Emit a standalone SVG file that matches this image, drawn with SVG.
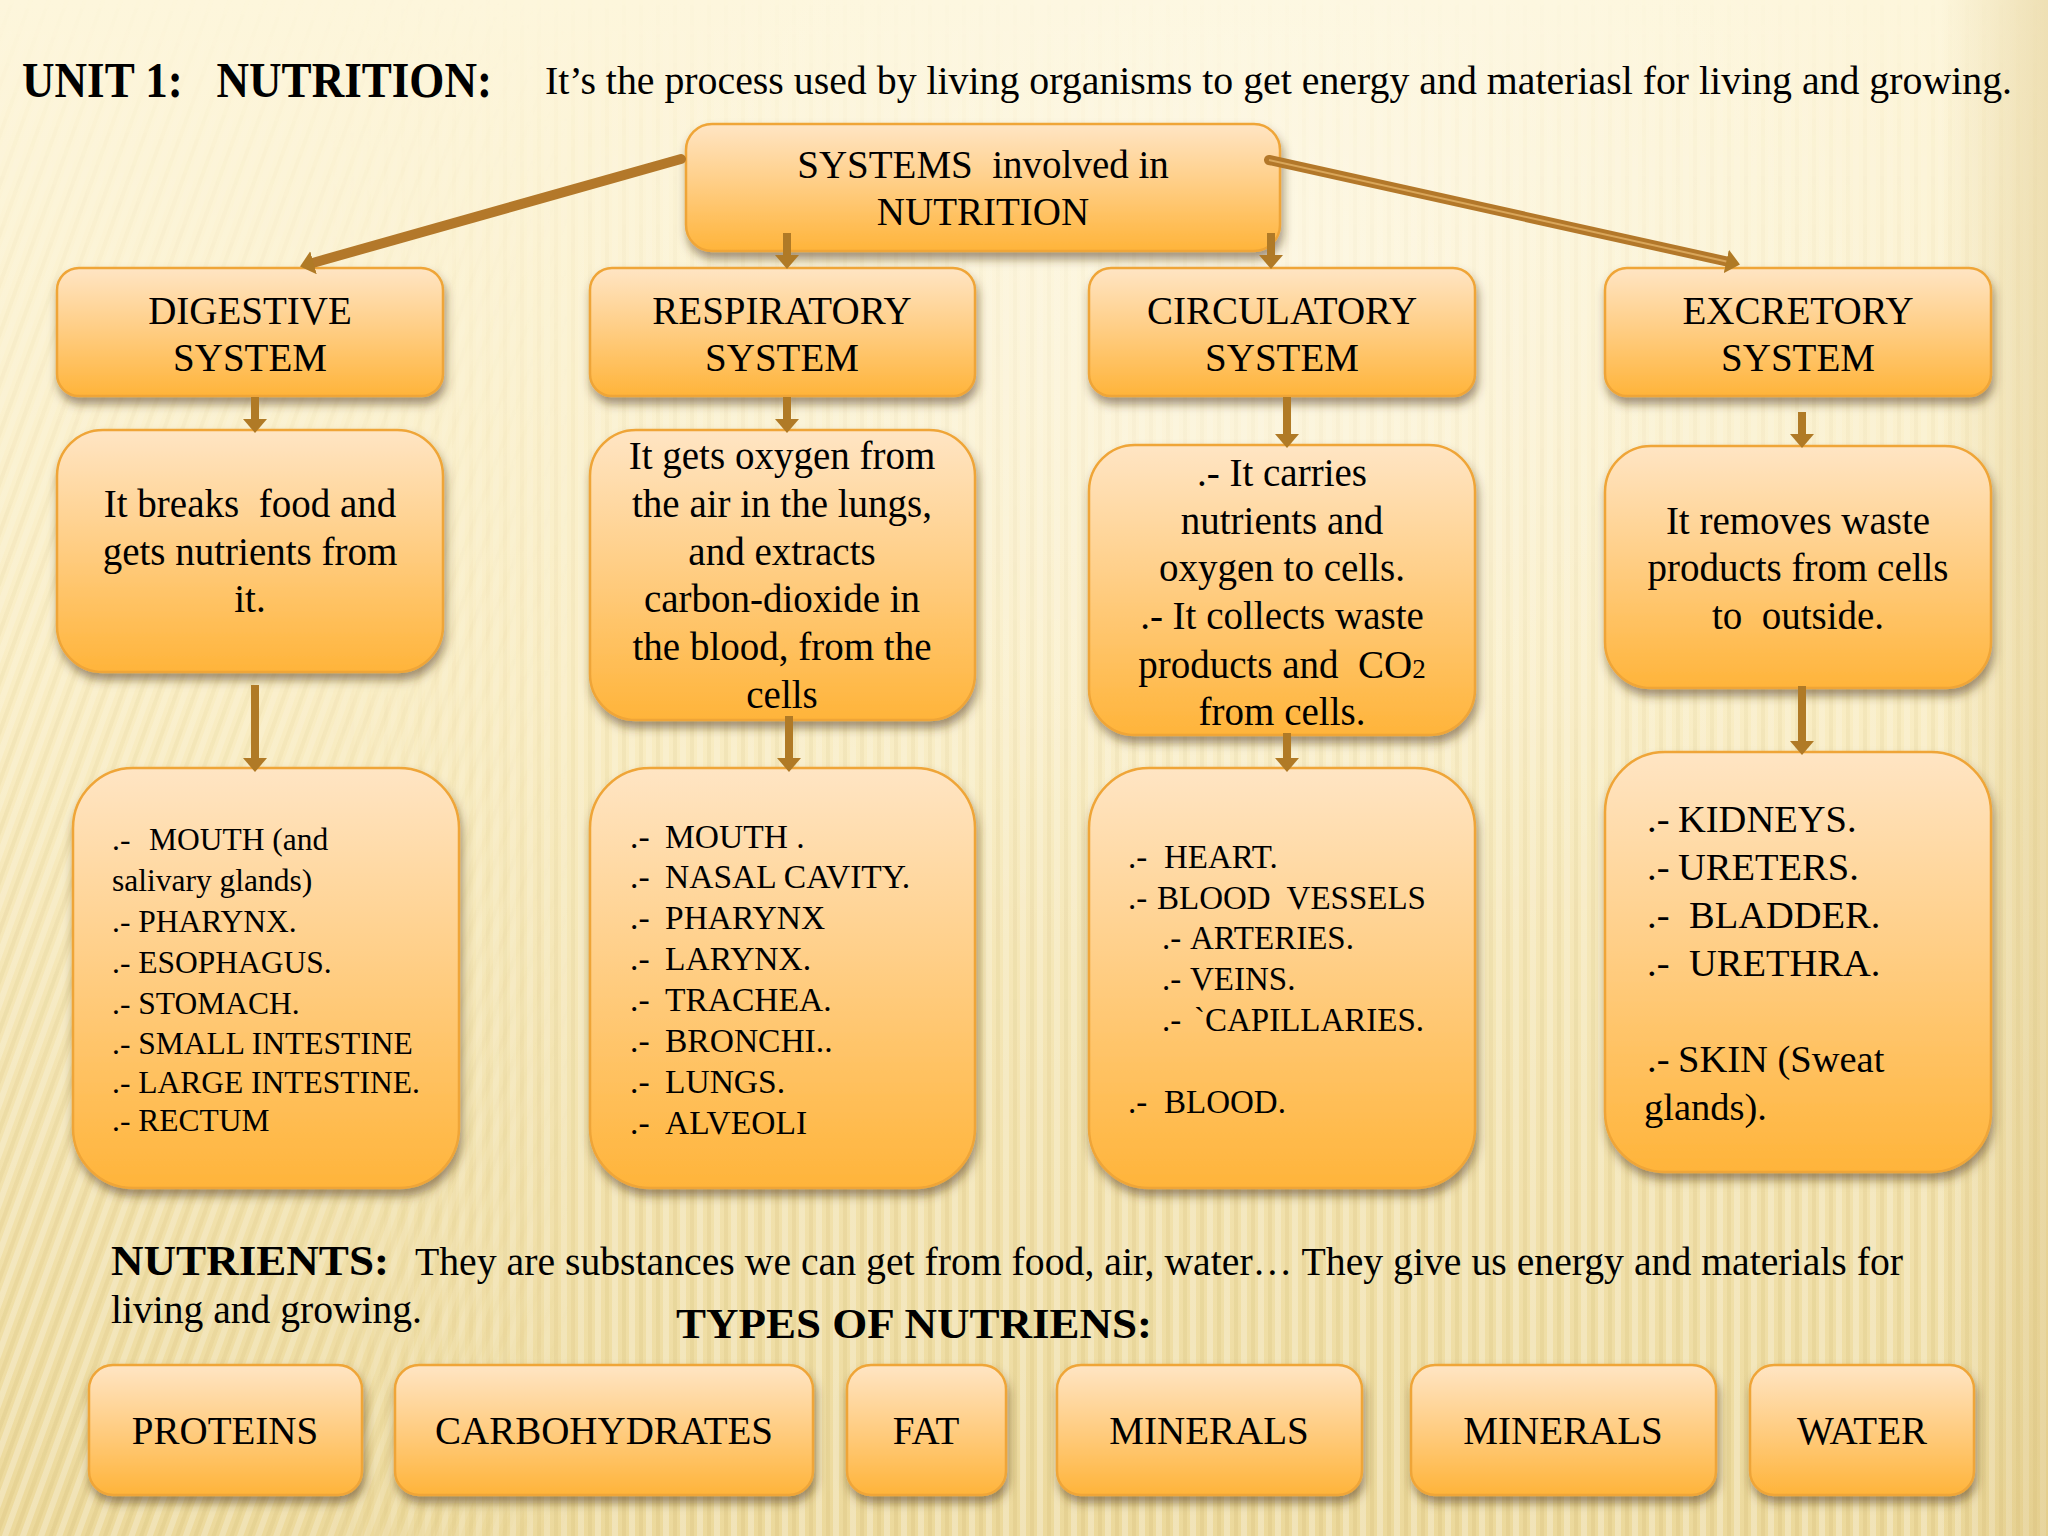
<svg xmlns="http://www.w3.org/2000/svg" width="2048" height="1536" viewBox="0 0 2048 1536">
<defs>
<style>
.t{font-family:"Liberation Serif","Times New Roman",serif;fill:#000;}
.c{text-anchor:middle;font-size:39px;}
.ld{font-size:31.5px;white-space:pre;}
.lr{font-size:33.5px;white-space:pre;}
.lc{font-size:33px;white-space:pre;}
.lx{font-size:38.5px;white-space:pre;}
.b{font-weight:bold;}
.box{fill:url(#boxGrad);stroke:#EFA537;stroke-width:2.5;filter:url(#sh);}
.arr{stroke:#B07A26;stroke-width:8;fill:none;marker-end:url(#ah);}
.diag{stroke:#B3782A;stroke-width:10;fill:none;stroke-linecap:round;marker-end:url(#ah);}
</style>
<linearGradient id="bgGrad" x1="0" y1="0" x2="0" y2="1">
<stop offset="0" stop-color="#FDF6DC"/>
<stop offset="0.45" stop-color="#F9EDC4"/>
<stop offset="1" stop-color="#ECD99C"/>
</linearGradient>
<radialGradient id="glow" cx="1250" cy="300" r="700" gradientUnits="userSpaceOnUse">
<stop offset="0" stop-color="#FFFFFF" stop-opacity="0.3"/>
<stop offset="1" stop-color="#FFFFFF" stop-opacity="0"/>
</radialGradient>
<pattern id="vstripes" width="17" height="40" patternUnits="userSpaceOnUse">
<rect x="0" y="0" width="6" height="40" fill="#FFFFFF" opacity="0.28"/>
<rect x="10" y="0" width="4" height="40" fill="#B89540" opacity="0.10"/>
</pattern>
<pattern id="dstripes" width="17" height="40" patternUnits="userSpaceOnUse" patternTransform="rotate(20)">
<rect x="0" y="0" width="6" height="40" fill="#FFFFFF" opacity="0.28"/>
<rect x="10" y="0" width="4" height="40" fill="#B89540" opacity="0.10"/>
</pattern>
<linearGradient id="vFade" x1="0" y1="0" x2="0" y2="1">
<stop offset="0" stop-color="#FFFFFF" stop-opacity="0.05"/>
<stop offset="0.12" stop-color="#FFFFFF" stop-opacity="0.3"/>
<stop offset="0.5" stop-color="#FFFFFF" stop-opacity="0.7"/>
<stop offset="1" stop-color="#FFFFFF" stop-opacity="1"/>
</linearGradient>
<linearGradient id="hFade" x1="0" y1="0" x2="1" y2="0">
<stop offset="0" stop-color="#FFFFFF" stop-opacity="1"/>
<stop offset="0.15" stop-color="#FFFFFF" stop-opacity="0.8"/>
<stop offset="0.28" stop-color="#FFFFFF" stop-opacity="0"/>
</linearGradient>
<linearGradient id="hFade2" x1="0" y1="0" x2="1" y2="0">
<stop offset="0.15" stop-color="#FFFFFF" stop-opacity="0"/>
<stop offset="0.3" stop-color="#FFFFFF" stop-opacity="1"/>
</linearGradient>
<mask id="mTop" maskUnits="userSpaceOnUse" x="0" y="0" width="2048" height="1536">
<rect width="2048" height="1536" fill="url(#vFade)"/>
</mask>
<mask id="mLeft" maskUnits="userSpaceOnUse" x="0" y="0" width="2048" height="1536">
<rect width="2048" height="1536" fill="url(#hFade)"/>
</mask>
<mask id="mRight" maskUnits="userSpaceOnUse" x="0" y="0" width="2048" height="1536">
<rect width="2048" height="1536" fill="url(#hFade2)"/>
</mask>
<linearGradient id="edge" x1="0" y1="0" x2="1" y2="0">
<stop offset="0" stop-color="#D8BE78" stop-opacity="0"/>
<stop offset="1" stop-color="#D8BE78" stop-opacity="0.4"/>
</linearGradient>
<linearGradient id="boxGrad" x1="0" y1="0" x2="0" y2="1">
<stop offset="0" stop-color="#FFE5C4"/>
<stop offset="0.45" stop-color="#FFCF88"/>
<stop offset="1" stop-color="#FFB43A"/>
</linearGradient>
<filter id="sh" x="-10%" y="-10%" width="120%" height="130%">
<feDropShadow dx="2" dy="7" stdDeviation="5" flood-color="#4A3208" flood-opacity="0.5"/>
</filter>
<marker id="ah" viewBox="0 0 14 24" markerWidth="14" markerHeight="24" markerUnits="userSpaceOnUse" refX="0" refY="12" orient="auto">
<path d="M0,0 L14,12 L0,24 z" fill="#B07A26"/>
</marker>
</defs>

<g id="background">
<rect width="2048" height="1536" fill="url(#bgGrad)"/>
<g mask="url(#mTop)">
<rect width="2048" height="1536" fill="url(#vstripes)" mask="url(#mRight)"/>
<rect width="2048" height="1536" fill="url(#dstripes)" mask="url(#mLeft)"/>
</g>
<rect width="2048" height="1536" fill="url(#glow)"/>
<rect x="1940" y="0" width="108" height="1536" fill="url(#edge)"/>
</g>

<g id="header">
<text class="t b" x="22" y="97" font-size="51" textLength="470" lengthAdjust="spacingAndGlyphs" style="white-space:pre">UNIT 1:   NUTRITION:</text>
<text class="t" x="545" y="94" font-size="39" textLength="1467" lengthAdjust="spacingAndGlyphs">It’s the process used by living organisms to get energy and materiasl for living and growing.</text>
</g>

<g id="node-systems">
<rect class="box" x="686" y="124" width="594" height="127" rx="26"/>
<text class="t c" x="983" y="178" style="white-space:pre">SYSTEMS  involved in</text>
<text class="t c" x="983" y="225">NUTRITION</text>
</g>

<g id="node-digestive">
<rect class="box" x="57" y="268" width="386" height="128" rx="22"/>
<text class="t c" x="250" y="324">DIGESTIVE</text>
<text class="t c" x="250" y="371">SYSTEM</text>
</g>
<g id="node-respiratory">
<rect class="box" x="590" y="268" width="385" height="128" rx="22"/>
<text class="t c" x="782" y="324">RESPIRATORY</text>
<text class="t c" x="782" y="371">SYSTEM</text>
</g>
<g id="node-circulatory">
<rect class="box" x="1089" y="268" width="386" height="128" rx="22"/>
<text class="t c" x="1282" y="324">CIRCULATORY</text>
<text class="t c" x="1282" y="371">SYSTEM</text>
</g>
<g id="node-excretory">
<rect class="box" x="1605" y="268" width="386" height="128" rx="22"/>
<text class="t c" x="1798" y="324">EXCRETORY</text>
<text class="t c" x="1798" y="371">SYSTEM</text>
</g>

<g id="node-digestive-desc">
<rect class="box" x="57" y="430" width="386" height="242" rx="46"/>
<text class="t c" x="250" y="517" style="white-space:pre">It breaks  food and</text>
<text class="t c" x="250" y="565">gets nutrients from</text>
<text class="t c" x="250" y="612">it.</text>
</g>
<g id="node-respiratory-desc">
<rect class="box" x="590" y="430" width="385" height="290" rx="46"/>
<text class="t c" x="782" y="469">It gets oxygen from</text>
<text class="t c" x="782" y="517">the air in the lungs,</text>
<text class="t c" x="782" y="565">and extracts</text>
<text class="t c" x="782" y="612">carbon-dioxide in</text>
<text class="t c" x="782" y="660">the blood, from the</text>
<text class="t c" x="782" y="708">cells</text>
</g>
<g id="node-circulatory-desc">
<rect class="box" x="1089" y="445" width="386" height="290" rx="46"/>
<text class="t c" x="1282" y="486">.- It carries</text>
<text class="t c" x="1282" y="534">nutrients and</text>
<text class="t c" x="1282" y="581">oxygen to cells.</text>
<text class="t c" x="1282" y="629">.- It collects waste</text>
<text class="t c" x="1282" y="678" style="white-space:pre">products and  CO<tspan font-size="27">2</tspan></text>
<text class="t c" x="1282" y="725">from cells.</text>
</g>
<g id="node-excretory-desc">
<rect class="box" x="1605" y="446" width="386" height="242" rx="46"/>
<text class="t c" x="1798" y="534">It removes waste</text>
<text class="t c" x="1798" y="581">products from cells</text>
<text class="t c" x="1798" y="629" style="white-space:pre">to  outside.</text>
</g>

<g id="node-digestive-organs">
<rect class="box" x="73" y="768" width="386" height="420" rx="60"/>
<text class="t ld" y="850"><tspan x="112">.-</tspan><tspan x="149">MOUTH (and</tspan></text>
<text class="t ld" x="112" y="891">salivary glands)</text>
<text class="t ld" x="112" y="932">.- PHARYNX.</text>
<text class="t ld" x="112" y="973">.- ESOPHAGUS.</text>
<text class="t ld" x="112" y="1014">.- STOMACH.</text>
<text class="t ld" x="112" y="1054">.- SMALL INTESTINE</text>
<text class="t ld" x="112" y="1093">.- LARGE INTESTINE.</text>
<text class="t ld" x="112" y="1131">.- RECTUM</text>
</g>
<g id="node-respiratory-organs">
<rect class="box" x="590" y="768" width="385" height="420" rx="60"/>
<text class="t lr" y="848"><tspan x="630">.-</tspan><tspan x="665">MOUTH .</tspan></text>
<text class="t lr" y="888"><tspan x="630">.-</tspan><tspan x="665">NASAL CAVITY.</tspan></text>
<text class="t lr" y="929"><tspan x="630">.-</tspan><tspan x="665">PHARYNX</tspan></text>
<text class="t lr" y="970"><tspan x="630">.-</tspan><tspan x="665">LARYNX.</tspan></text>
<text class="t lr" y="1011"><tspan x="630">.-</tspan><tspan x="665">TRACHEA.</tspan></text>
<text class="t lr" y="1052"><tspan x="630">.-</tspan><tspan x="665">BRONCHI..</tspan></text>
<text class="t lr" y="1093"><tspan x="630">.-</tspan><tspan x="665">LUNGS.</tspan></text>
<text class="t lr" y="1134"><tspan x="630">.-</tspan><tspan x="665">ALVEOLI</tspan></text>
</g>
<g id="node-circulatory-organs">
<rect class="box" x="1089" y="768" width="386" height="420" rx="60"/>
<text class="t lc" y="868"><tspan x="1128">.-</tspan><tspan x="1164">HEART.</tspan></text>
<text class="t lc" y="909"><tspan x="1128">.-</tspan><tspan x="1157">BLOOD  VESSELS</tspan></text>
<text class="t lc" y="949"><tspan x="1162">.-</tspan><tspan x="1190">ARTERIES.</tspan></text>
<text class="t lc" y="990"><tspan x="1162">.-</tspan><tspan x="1190">VEINS.</tspan></text>
<text class="t lc" y="1031"><tspan x="1162">.-</tspan><tspan x="1194">`CAPILLARIES.</tspan></text>
<text class="t lc" y="1113"><tspan x="1128">.-</tspan><tspan x="1164">BLOOD.</tspan></text>
</g>
<g id="node-excretory-organs">
<rect class="box" x="1605" y="752" width="386" height="420" rx="60"/>
<text class="t lx" y="832"><tspan x="1647">.-</tspan><tspan x="1678">KIDNEYS.</tspan></text>
<text class="t lx" y="880"><tspan x="1647">.-</tspan><tspan x="1678">URETERS.</tspan></text>
<text class="t lx" y="928"><tspan x="1647">.-</tspan><tspan x="1689">BLADDER.</tspan></text>
<text class="t lx" y="976"><tspan x="1647">.-</tspan><tspan x="1689">URETHRA.</tspan></text>
<text class="t lx" y="1072"><tspan x="1647">.-</tspan><tspan x="1678">SKIN (Sweat</tspan></text>
<text class="t lx" x="1644" y="1120">glands).</text>
</g>

<g id="nutrients-text">
<text class="t b" x="111" y="1275" font-size="42" textLength="278" lengthAdjust="spacingAndGlyphs">NUTRIENTS:</text>
<text class="t" x="415" y="1275" font-size="39" textLength="1488" lengthAdjust="spacingAndGlyphs">They are substances we can get from food, air, water… They give us energy and materials for</text>
<text class="t" x="111" y="1323" font-size="39" textLength="311" lengthAdjust="spacingAndGlyphs">living and growing.</text>
<text class="t b" x="676" y="1338" font-size="42" textLength="476" lengthAdjust="spacingAndGlyphs">TYPES OF NUTRIENS:</text>
</g>

<g id="node-proteins">
<rect class="box" x="89" y="1365" width="273" height="130" rx="24"/>
<text class="t c" x="225" y="1444" font-size="38">PROTEINS</text>
</g>
<g id="node-carbohydrates">
<rect class="box" x="395" y="1365" width="418" height="130" rx="24"/>
<text class="t c" x="604" y="1444" font-size="38">CARBOHYDRATES</text>
</g>
<g id="node-fat">
<rect class="box" x="847" y="1365" width="159" height="130" rx="24"/>
<text class="t c" x="926" y="1444" font-size="38">FAT</text>
</g>
<g id="node-minerals-1">
<rect class="box" x="1057" y="1365" width="305" height="130" rx="24"/>
<text class="t c" x="1209" y="1444" font-size="38">MINERALS</text>
</g>
<g id="node-minerals-2">
<rect class="box" x="1411" y="1365" width="305" height="130" rx="24"/>
<text class="t c" x="1563" y="1444" font-size="38">MINERALS</text>
</g>
<g id="node-water">
<rect class="box" x="1750" y="1365" width="224" height="130" rx="24"/>
<text class="t c" x="1862" y="1444" font-size="38">WATER</text>
</g>

<g id="connectors">
<path class="diag" d="M681,159 L313.5,262.7"/>
<path class="diag" d="M1269,160 L1726.3,261.4"/>
<path d="M1269,160 L1726.3,261.4" stroke="#D9A65A" stroke-width="2" fill="none"/>
<path class="arr" d="M787,233 L787,255"/>
<path class="arr" d="M1271,233 L1271,255"/>
<path class="arr" d="M255,397 L255,419"/>
<path class="arr" d="M787,397 L787,419"/>
<path class="arr" d="M1287,397 L1287,434"/>
<path class="arr" d="M1802,412 L1802,434"/>
<path class="arr" d="M255,685 L255,758"/>
<path class="arr" d="M789,716 L789,758"/>
<path class="arr" d="M1287,733 L1287,758"/>
<path class="arr" d="M1802,686 L1802,741"/>
</g>
</svg>
